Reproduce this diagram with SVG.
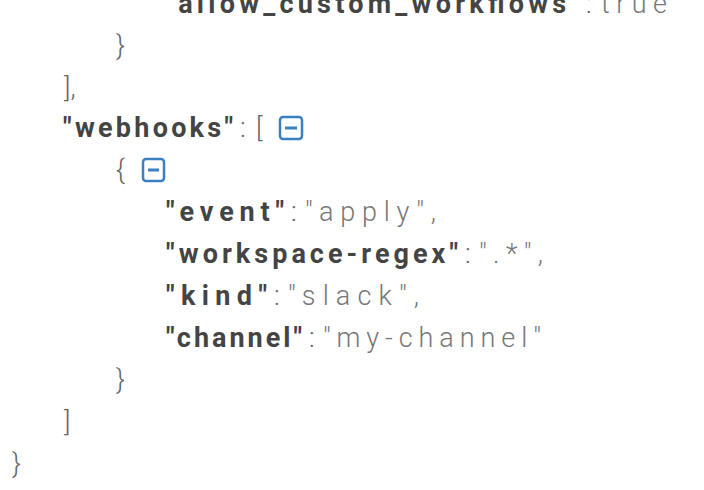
<svg xmlns="http://www.w3.org/2000/svg" width="704" height="490" viewBox="0 0 704 490">
<style>
text{font-family:Roboto,"Noto Sans",sans-serif;font-size:27px;fill:#777;font-weight:300}
.k{fill:#444;font-weight:700}
.p{fill:#666;font-weight:300}
.b{fill:none;stroke:#3a7fc1;stroke-width:2.5}
.m{stroke:#3a7fc1;stroke-width:3}
</style>
<rect width="704" height="490" fill="#fff"/>
<g id="lines">
<text x="166" y="13" class="k" textLength="413" lengthAdjust="spacing">"allow_custom_workflows"</text>
<text x="586" y="13" class="p">:</text><text x="601" y="13" textLength="66" lengthAdjust="spacing">true</text>
<text x="116" y="55" class="p">}</text>
<text x="64" y="97" class="p">],</text>
<text x="63" y="137" class="k" textLength="170" lengthAdjust="spacing">"webhooks"</text>
<text x="240" y="137" class="p">:</text><text x="256" y="137" class="p">[</text>
<text x="116" y="179" class="p">{</text>
<text x="166" y="221" class="k" textLength="118" lengthAdjust="spacing">"event"</text>
<text x="291" y="221" class="p">:</text><text x="305" y="221" textLength="131" lengthAdjust="spacing">"apply",</text>
<text x="166" y="263" class="k" textLength="292" lengthAdjust="spacing">"workspace-regex"</text>
<text x="465" y="263" class="p">:</text><text x="479" y="263" textLength="64" lengthAdjust="spacing">".*",</text>
<text x="166" y="305" class="k" textLength="101" lengthAdjust="spacing">"kind"</text>
<text x="274" y="305" class="p">:</text><text x="288" y="305" textLength="131" lengthAdjust="spacing">"slack",</text>
<text x="166" y="347" class="k" textLength="136" lengthAdjust="spacing">"channel"</text>
<text x="309" y="347" class="p">:</text><text x="323" y="347" textLength="218" lengthAdjust="spacing">"my-channel"</text>
<text x="116" y="389" class="p">}</text>
<text x="64" y="431" class="p">]</text>
<text x="12" y="473" class="p">}</text>
</g>
<g id="toggle1"><rect class="b" x="280" y="117" width="22" height="22" rx="3"/><line class="m" x1="285" y1="128" x2="297" y2="128"/></g>
<g id="toggle2"><rect class="b" x="143" y="159" width="21" height="22" rx="3"/><line class="m" x1="148" y1="170" x2="159" y2="170"/></g>
</svg>
